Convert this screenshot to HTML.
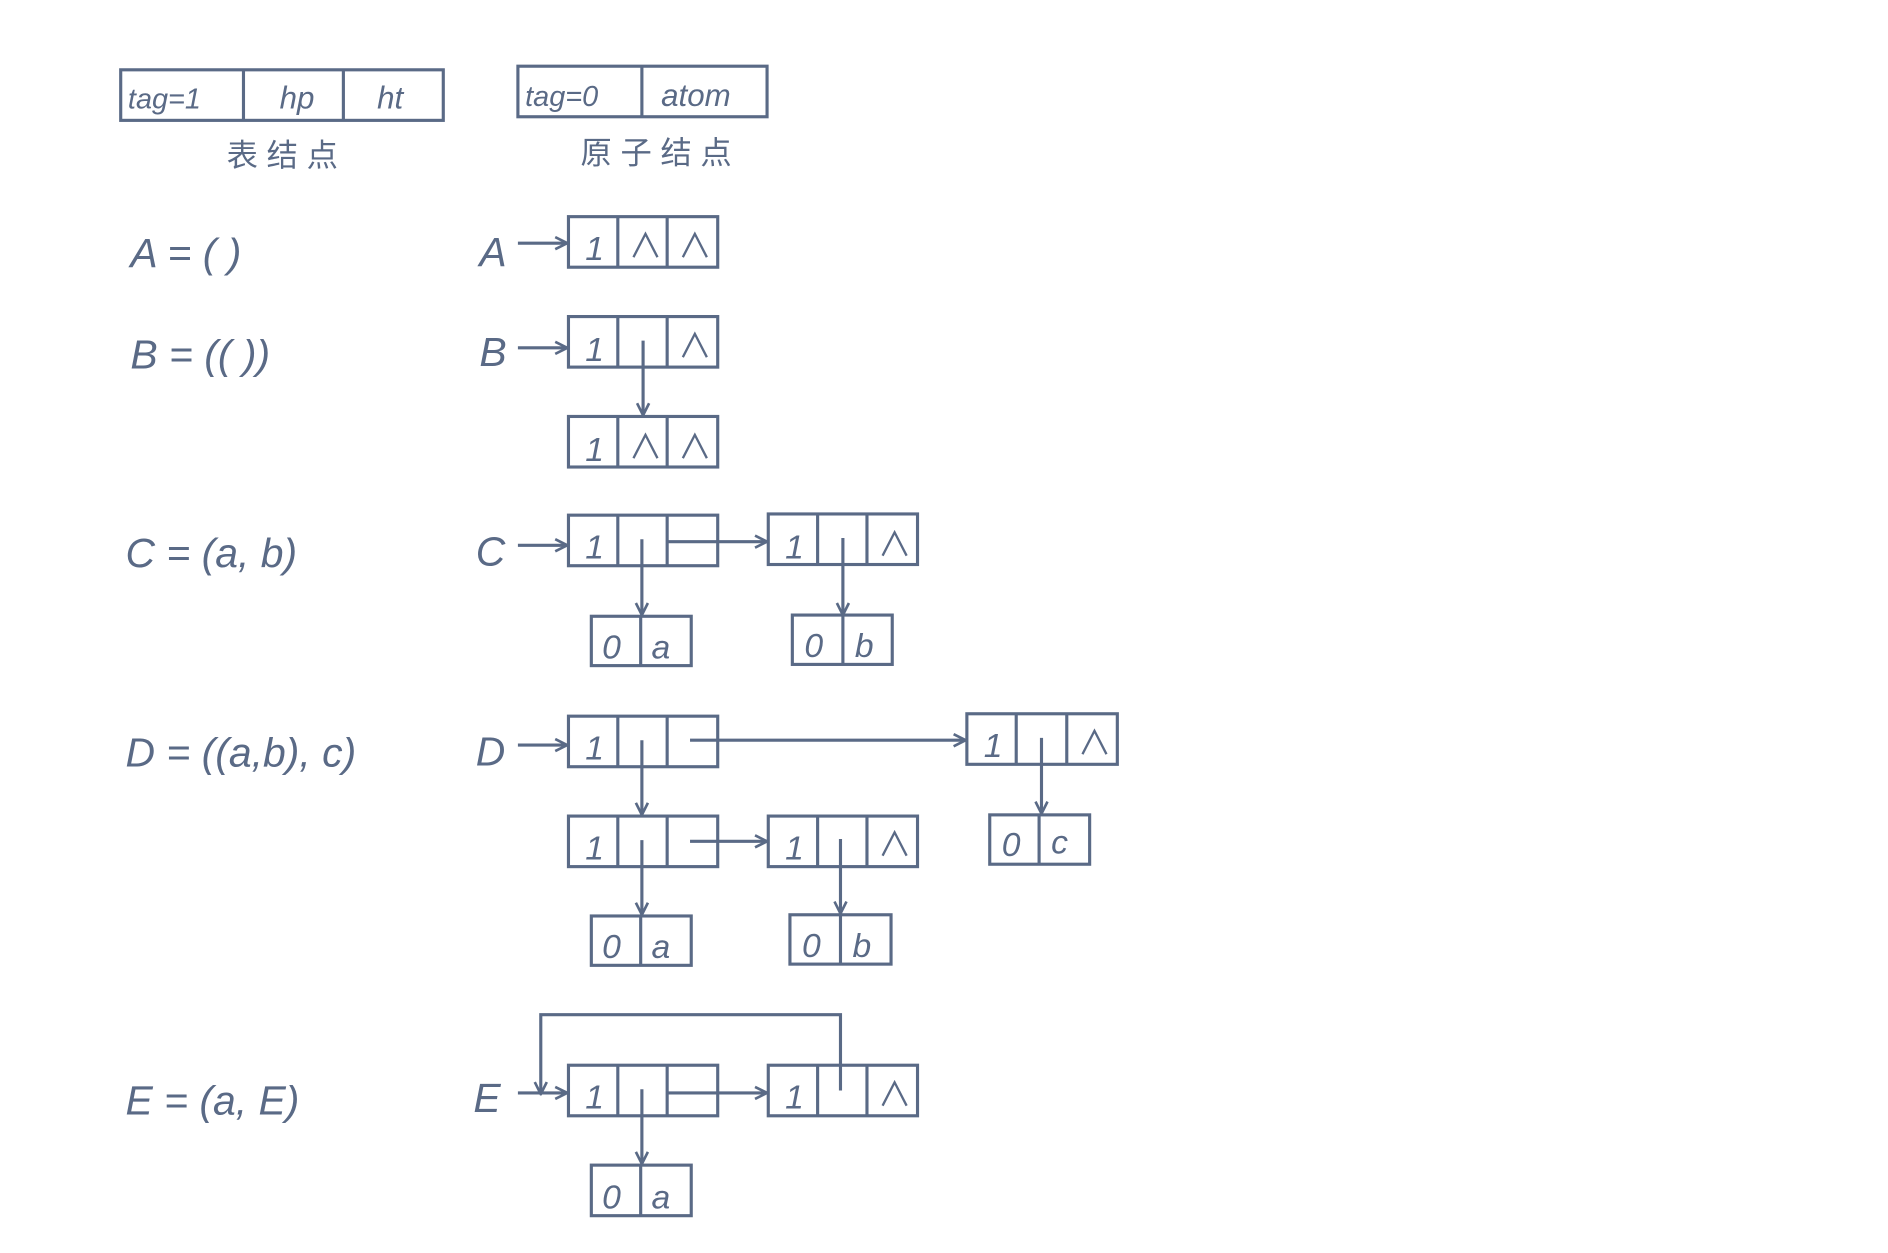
<!DOCTYPE html>
<html><head><meta charset="utf-8"><style>
html,body{margin:0;padding:0;background:#fff;width:1888px;height:1253px;overflow:hidden}
text{font-family:"Liberation Sans","Noto Sans CJK SC",sans-serif;fill:#5a6a86;font-style:italic}
.n{font-style:normal}
</style></head><body>
<svg width="1888" height="1253" viewBox="0 0 1568 1041" xmlns="http://www.w3.org/2000/svg">
<defs>
<marker id="ah" viewBox="0 0 12 12" refX="11" refY="6" markerWidth="12" markerHeight="12" markerUnits="userSpaceOnUse" orient="auto">
<path d="M1,1 L11,6 L1,11" fill="none" stroke="#5a6a86" stroke-width="2.2"/>
</marker>
</defs>
<g fill="none" stroke="#5a6a86" stroke-width="2.6">
<rect x="100" y="58" width="268" height="42"/><line x1="202" y1="58" x2="202" y2="100"/><line x1="285" y1="58" x2="285" y2="100"/>
<rect x="430" y="55" width="207" height="42"/><line x1="533" y1="55" x2="533" y2="97"/>
<rect x="472" y="180" width="124" height="42"/><line x1="513" y1="180" x2="513" y2="222"/><line x1="554" y1="180" x2="554" y2="222"/>
<line x1="430" y1="202" x2="471" y2="202" marker-end="url(#ah)"/>
<rect x="472" y="263" width="124" height="42"/><line x1="513" y1="263" x2="513" y2="305"/><line x1="554" y1="263" x2="554" y2="305"/>
<line x1="430" y1="289" x2="471" y2="289" marker-end="url(#ah)"/>
<line x1="534" y1="283" x2="534" y2="345" marker-end="url(#ah)"/>
<rect x="472" y="346" width="124" height="42"/><line x1="513" y1="346" x2="513" y2="388"/><line x1="554" y1="346" x2="554" y2="388"/>
<rect x="472" y="428" width="124" height="42"/><line x1="513" y1="428" x2="513" y2="470"/><line x1="554" y1="428" x2="554" y2="470"/>
<line x1="430" y1="453" x2="471" y2="453" marker-end="url(#ah)"/>
<line x1="554" y1="450" x2="637" y2="450" marker-end="url(#ah)"/>
<rect x="638" y="427" width="124" height="42"/><line x1="679" y1="427" x2="679" y2="469"/><line x1="720" y1="427" x2="720" y2="469"/>
<line x1="533" y1="448" x2="533" y2="511" marker-end="url(#ah)"/>
<line x1="700" y1="447" x2="700" y2="511" marker-end="url(#ah)"/>
<rect x="491" y="512" width="83" height="41"/><line x1="532" y1="512" x2="532" y2="553"/>
<rect x="658" y="511" width="83" height="41"/><line x1="700" y1="511" x2="700" y2="552"/>
<rect x="472" y="595" width="124" height="42"/><line x1="513" y1="595" x2="513" y2="637"/><line x1="554" y1="595" x2="554" y2="637"/>
<line x1="430" y1="619" x2="471" y2="619" marker-end="url(#ah)"/>
<line x1="573" y1="615" x2="802" y2="615" marker-end="url(#ah)"/>
<rect x="803" y="593" width="125" height="42"/><line x1="844" y1="593" x2="844" y2="635"/><line x1="886" y1="593" x2="886" y2="635"/>
<line x1="865" y1="613" x2="865" y2="676" marker-end="url(#ah)"/>
<rect x="822" y="677" width="83" height="41"/><line x1="863" y1="677" x2="863" y2="718"/>
<line x1="533" y1="615" x2="533" y2="677" marker-end="url(#ah)"/>
<rect x="472" y="678" width="124" height="42"/><line x1="513" y1="678" x2="513" y2="720"/><line x1="554" y1="678" x2="554" y2="720"/>
<line x1="573" y1="699" x2="637" y2="699" marker-end="url(#ah)"/>
<rect x="638" y="678" width="124" height="42"/><line x1="679" y1="678" x2="679" y2="720"/><line x1="720" y1="678" x2="720" y2="720"/>
<line x1="533" y1="698" x2="533" y2="760" marker-end="url(#ah)"/>
<line x1="698" y1="697" x2="698" y2="759" marker-end="url(#ah)"/>
<rect x="491" y="761" width="83" height="41"/><line x1="532" y1="761" x2="532" y2="802"/>
<rect x="656" y="760" width="84" height="41"/><line x1="698" y1="760" x2="698" y2="801"/>
<rect x="472" y="885" width="124" height="42"/><line x1="513" y1="885" x2="513" y2="927"/><line x1="554" y1="885" x2="554" y2="927"/>
<line x1="430" y1="908" x2="471" y2="908" marker-end="url(#ah)"/>
<line x1="554" y1="908" x2="637" y2="908" marker-end="url(#ah)"/>
<rect x="638" y="885" width="124" height="42"/><line x1="679" y1="885" x2="679" y2="927"/><line x1="720" y1="885" x2="720" y2="927"/>
<polyline points="698,906 698,843 449,843 449,909" marker-end="url(#ah)"/>
<line x1="533" y1="905" x2="533" y2="967" marker-end="url(#ah)"/>
<rect x="491" y="968" width="83" height="42"/><line x1="532" y1="968" x2="532" y2="1010"/>
</g>
<g font-size="26">
<text x="106" y="90" font-size="24">tag=1</text><text x="232" y="90" font-size="26">hp</text><text x="313" y="90">ht</text>
<text x="436" y="88" font-size="24">tag=0</text><text x="549" y="88">atom</text>
<text x="188" y="138" class="n">表 结 点</text>
<text x="482" y="136" class="n">原 子 结 点</text>
<g font-size="34">
<text x="108" y="222">A = ( )</text>
<text x="108" y="306">B = (( ))</text>
<text x="104" y="471">C = (a, b)</text>
<text x="104" y="637">D = ((a,b), c)</text>
<text x="104" y="926">E = (a, E)</text>
<text x="398" y="221">A</text><text x="398" y="304">B</text><text x="395" y="470">C</text><text x="395" y="636">D</text><text x="393" y="924">E</text>
</g>
<g font-size="28">
<text x="486" y="216">1</text><text x="522" y="214" class="n">∧</text><text x="563" y="214" class="n">∧</text>
<text x="486" y="300">1</text><text x="563" y="297" class="n">∧</text>
<text x="486" y="383">1</text><text x="522" y="381" class="n">∧</text><text x="563" y="381" class="n">∧</text>
<text x="486" y="464">1</text><text x="652" y="464">1</text><text x="729" y="462" class="n">∧</text>
<text x="500" y="547">0</text><text x="541" y="547">a</text><text x="668" y="546">0</text><text x="710" y="546">b</text>
<text x="486" y="631">1</text><text x="817" y="629">1</text><text x="895" y="627" class="n">∧</text>
<text x="832" y="711">0</text><text x="873" y="709">c</text>
<text x="486" y="714">1</text><text x="652" y="714">1</text><text x="729" y="711" class="n">∧</text>
<text x="500" y="796">0</text><text x="541" y="796">a</text><text x="666" y="795">0</text><text x="708" y="795">b</text>
<text x="486" y="921">1</text><text x="652" y="921">1</text><text x="729" y="919" class="n">∧</text>
<text x="500" y="1004">0</text><text x="541" y="1004">a</text>
</g>
</g>
</svg>
</body></html>
